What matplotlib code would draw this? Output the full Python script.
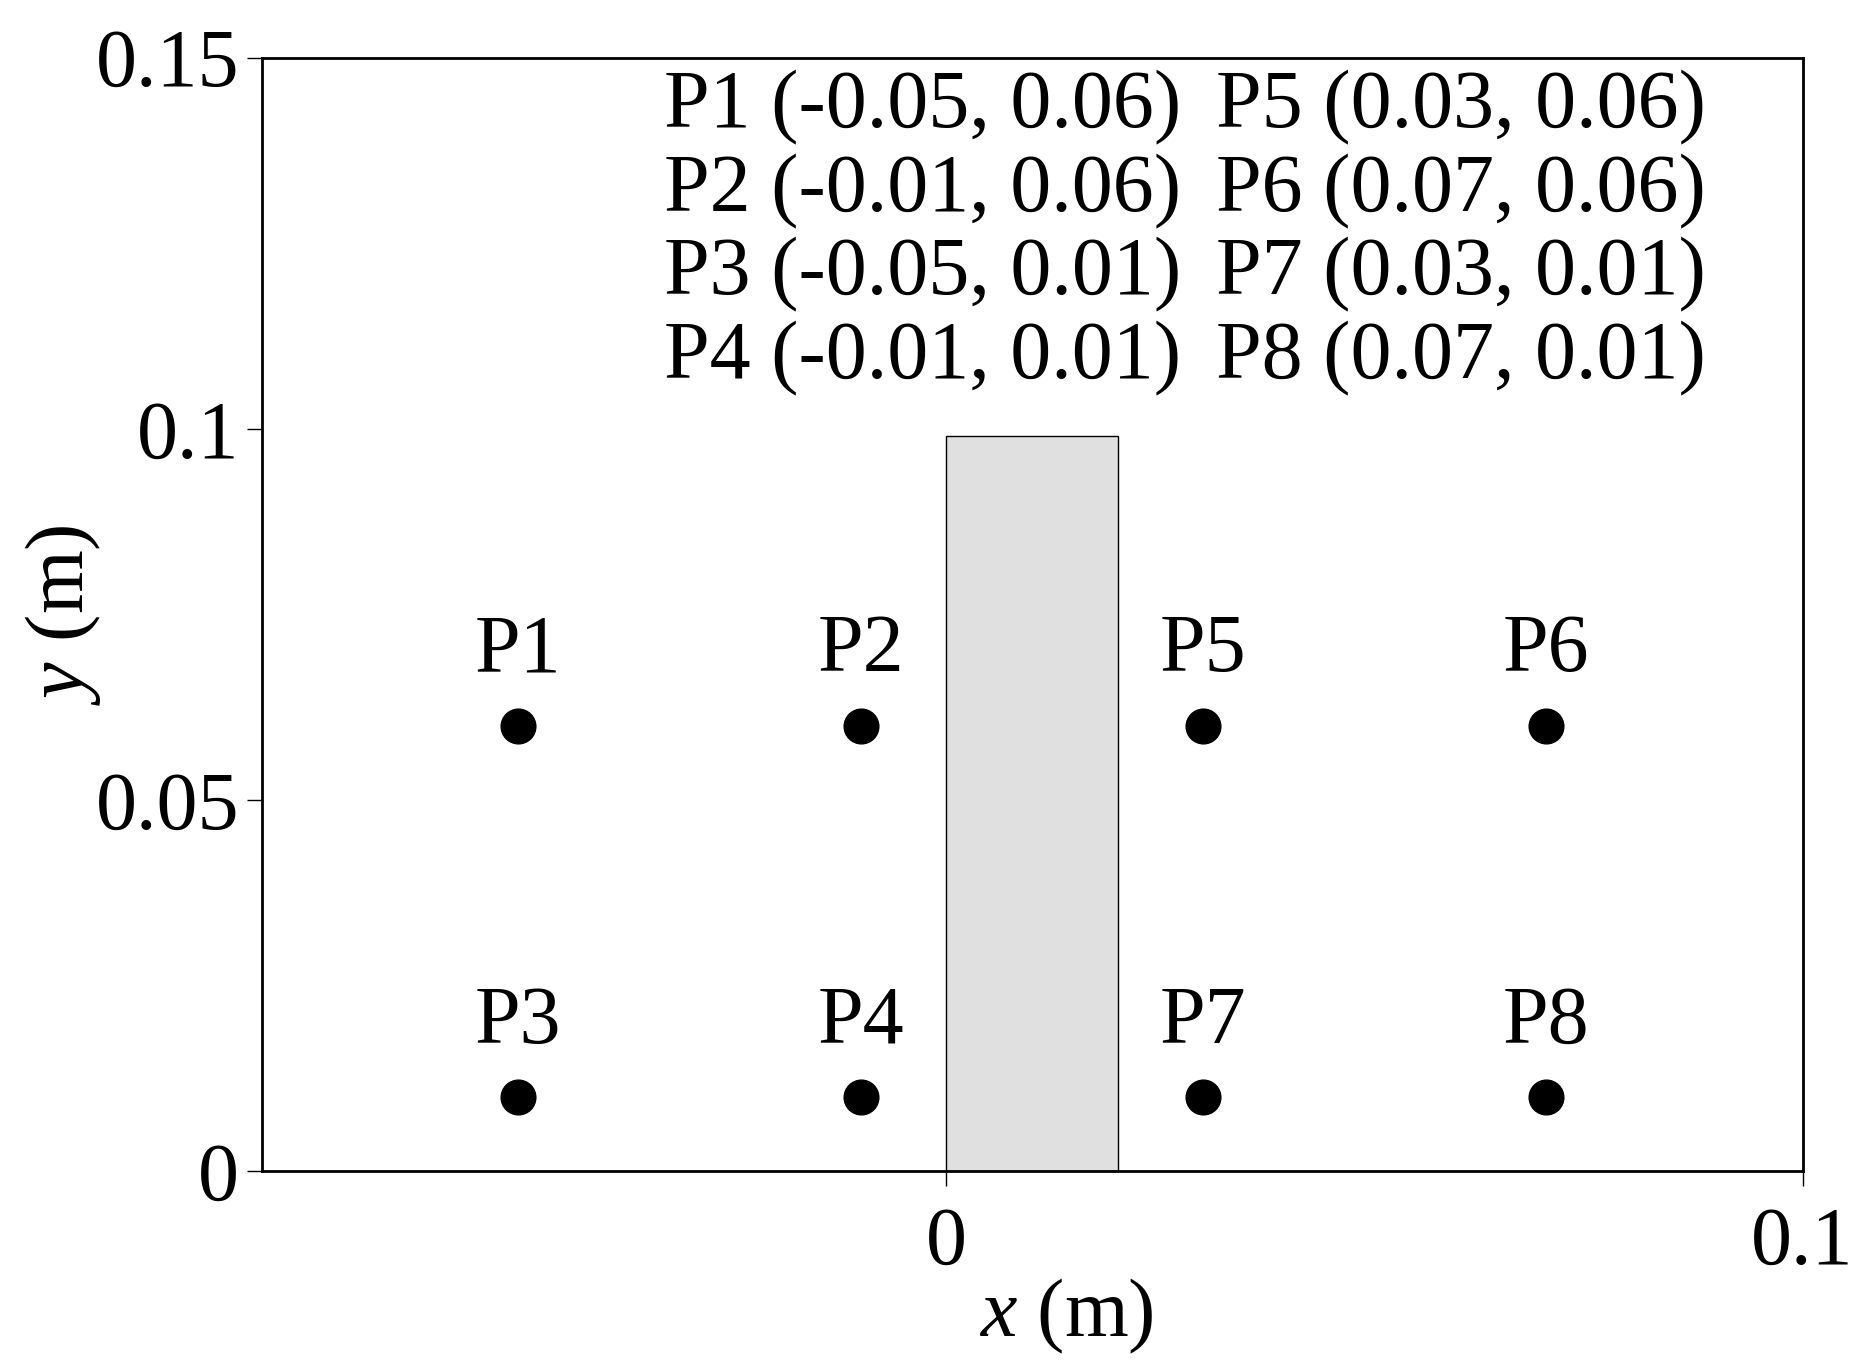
import matplotlib
matplotlib.use("Agg")
from matplotlib import pyplot as plt
from matplotlib.patches import Rectangle

# probe points (m)
names = ["P1", "P2", "P3", "P4", "P5", "P6", "P7", "P8"]
xs = [-0.05, -0.01, -0.05, -0.01, 0.03, 0.07, 0.03, 0.07]
ys = [0.06, 0.06, 0.01, 0.01, 0.06, 0.06, 0.01, 0.01]

# obstacle block: x0, y0, width, height
block = [0.0, 0.0, 0.02, 0.099]

plt.rcParams['font.family'] = ['Liberation Serif', 'DejaVu Serif']
plt.rcParams['mathtext.fontset'] = 'custom'
plt.rcParams['mathtext.it'] = 'Liberation Serif:italic'
plt.rcParams['mathtext.rm'] = 'Liberation Serif'
fs = 59

fig = plt.figure(figsize=(18.68, 13.70), dpi=100)
ax = fig.add_axes([0.140, 0.145, 0.825, 0.813])

ax.add_patch(Rectangle((block[0], block[1]), block[2], block[3],
                       facecolor='#e0e0e0', edgecolor='black', linewidth=1.0, zorder=1))
ax.plot(xs, ys, 'o', color='black', markersize=25, zorder=3)

for n, x, y in zip(names, xs, ys):
    ax.text(x, y + 0.01, n, ha='center', va='center', fontsize=fs)

# coordinate list in the upper right
for i, (n, x, y) in enumerate(zip(names, xs, ys)):
    col = i // 4
    row = i % 4
    s = f"{n} ({x:.2f}, {y:.2f})"
    ax.text(-0.033 + col * 0.0645, 0.1433 - row * 0.0113, s,
            ha='left', va='center', fontsize=fs)

ax.set_xlim(-0.08, 0.1)
ax.set_ylim(0, 0.15)
ax.set_xticks([0, 0.1])
ax.set_xticklabels(['0', '0.1'])
ax.set_yticks([0, 0.05, 0.1, 0.15])
ax.set_yticklabels(['0', '0.05', '0.1', '0.15'])
ax.tick_params(axis='x', direction='out', length=11, width=1.0, labelsize=fs, pad=14)
ax.tick_params(axis='y', direction='out', length=11, width=1.0, labelsize=fs, pad=5)
for sp in ax.spines.values():
    sp.set_linewidth(2.0)

ax.set_xlabel(r'$x$ (m)', fontsize=fs, labelpad=0)
ax.xaxis.set_label_coords(0.522, -0.095)
ax.set_ylabel(r'$y$ (m)', fontsize=fs)
ax.yaxis.set_label_coords(-0.103, 0.5)

fig.savefig('out.png', dpi=100)
